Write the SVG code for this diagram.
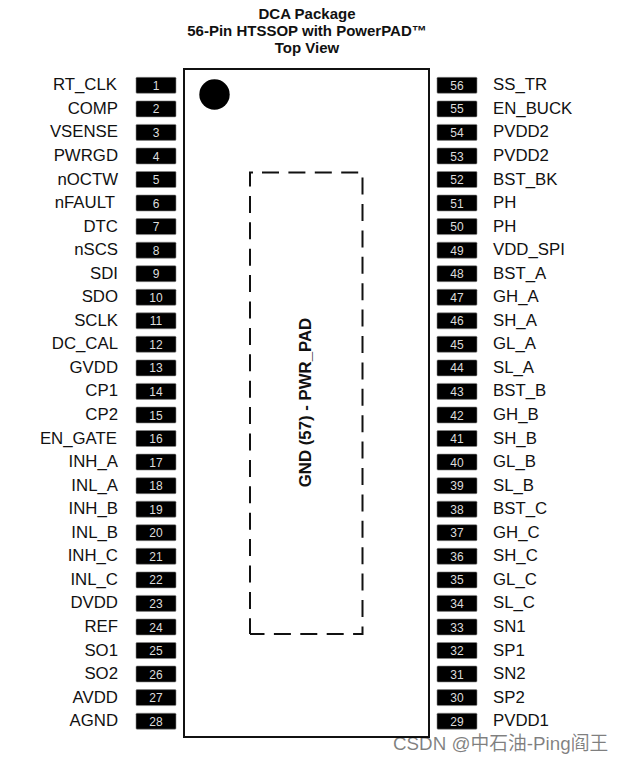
<svg xmlns="http://www.w3.org/2000/svg" width="623" height="763" viewBox="0 0 623 763">
<style>
text{font-family:"Liberation Sans",Arial,sans-serif}
.t{font-size:15px;font-weight:bold;fill:#111;text-anchor:middle}
.l{font-size:16.800px;fill:#111;text-anchor:end}
.r{font-size:16.800px;fill:#111}
.n{font-size:12px;fill:#ddd;text-anchor:middle}
.b{fill:#000;stroke:#888;stroke-width:.6}
.d{fill:none;stroke:#111;stroke-width:2;stroke-dasharray:17 9.400}
</style>
<defs>
<rect id="pl" class="b" x="136" y="-8" width="40" height="16" rx="1"/>
<rect id="pr" class="b" x="437" y="-8" width="40" height="16" rx="1"/>
</defs>
<g id="title">
<text class="t" x="307" y="19">DCA Package</text>
<text class="t" x="307" y="36">56-Pin HTSSOP with PowerPAD™</text>
<text class="t" x="307" y="52.500">Top View</text>
</g>
<g id="package">
<rect x="184" y="69" width="245" height="668" fill="#fff" stroke="#111" stroke-width="2"/>
<circle cx="214.500" cy="94.500" r="15.200" fill="#000"/>
</g>
<g id="powerpad">
<path class="d" d="M262,172.500H362.500V634H250"/>
<path class="d" d="M253,172.500H250V634"/>
<text transform="translate(311,402.500) rotate(-90)" font-size="16.800" font-weight="bold" fill="#111" text-anchor="middle">GND (57) - PWR_PAD</text>
</g>
<g id="pins-left">
<g id="pin1" transform="translate(0,85.300)"><use href="#pl"/><text class="n" x="156" y="4.500">1</text><text class="l" x="117" y="5">RT_CLK</text></g>
<g id="pin2" transform="translate(0,108.900)"><use href="#pl"/><text class="n" x="156" y="4.500">2</text><text class="l" x="118" y="5">COMP</text></g>
<g id="pin3" transform="translate(0,132.400)"><use href="#pl"/><text class="n" x="156" y="4.500">3</text><text class="l" x="118" y="5">VSENSE</text></g>
<g id="pin4" transform="translate(0,156)"><use href="#pl"/><text class="n" x="156" y="4.500">4</text><text class="l" x="118" y="5">PWRGD</text></g>
<g id="pin5" transform="translate(0,179.500)"><use href="#pl"/><text class="n" x="156" y="4.500">5</text><text class="l" x="118" y="5">nOCTW</text></g>
<g id="pin6" transform="translate(0,203)"><use href="#pl"/><text class="n" x="156" y="4.500">6</text><text class="l" x="115" y="5">nFAULT</text></g>
<g id="pin7" transform="translate(0,226.600)"><use href="#pl"/><text class="n" x="156" y="4.500">7</text><text class="l" x="118" y="5">DTC</text></g>
<g id="pin8" transform="translate(0,250.200)"><use href="#pl"/><text class="n" x="156" y="4.500">8</text><text class="l" x="118" y="5">nSCS</text></g>
<g id="pin9" transform="translate(0,273.700)"><use href="#pl"/><text class="n" x="156" y="4.500">9</text><text class="l" x="118" y="5">SDI</text></g>
<g id="pin10" transform="translate(0,297.300)"><use href="#pl"/><text class="n" x="156" y="4.500">10</text><text class="l" x="118" y="5">SDO</text></g>
<g id="pin11" transform="translate(0,320.800)"><use href="#pl"/><text class="n" x="156" y="4.500">11</text><text class="l" x="118" y="5">SCLK</text></g>
<g id="pin12" transform="translate(0,344.300)"><use href="#pl"/><text class="n" x="156" y="4.500">12</text><text class="l" x="118" y="5">DC_CAL</text></g>
<g id="pin13" transform="translate(0,367.900)"><use href="#pl"/><text class="n" x="156" y="4.500">13</text><text class="l" x="118" y="5">GVDD</text></g>
<g id="pin14" transform="translate(0,391.400)"><use href="#pl"/><text class="n" x="156" y="4.500">14</text><text class="l" x="118" y="5">CP1</text></g>
<g id="pin15" transform="translate(0,415)"><use href="#pl"/><text class="n" x="156" y="4.500">15</text><text class="l" x="118" y="5">CP2</text></g>
<g id="pin16" transform="translate(0,438.500)"><use href="#pl"/><text class="n" x="156" y="4.500">16</text><text class="l" x="117" y="5">EN_GATE</text></g>
<g id="pin17" transform="translate(0,462.100)"><use href="#pl"/><text class="n" x="156" y="4.500">17</text><text class="l" x="118" y="5">INH_A</text></g>
<g id="pin18" transform="translate(0,485.700)"><use href="#pl"/><text class="n" x="156" y="4.500">18</text><text class="l" x="118" y="5">INL_A</text></g>
<g id="pin19" transform="translate(0,509.200)"><use href="#pl"/><text class="n" x="156" y="4.500">19</text><text class="l" x="118" y="5">INH_B</text></g>
<g id="pin20" transform="translate(0,532.700)"><use href="#pl"/><text class="n" x="156" y="4.500">20</text><text class="l" x="118" y="5">INL_B</text></g>
<g id="pin21" transform="translate(0,556.300)"><use href="#pl"/><text class="n" x="156" y="4.500">21</text><text class="l" x="118" y="5">INH_C</text></g>
<g id="pin22" transform="translate(0,579.900)"><use href="#pl"/><text class="n" x="156" y="4.500">22</text><text class="l" x="118" y="5">INL_C</text></g>
<g id="pin23" transform="translate(0,603.400)"><use href="#pl"/><text class="n" x="156" y="4.500">23</text><text class="l" x="118" y="5">DVDD</text></g>
<g id="pin24" transform="translate(0,627)"><use href="#pl"/><text class="n" x="156" y="4.500">24</text><text class="l" x="118" y="5">REF</text></g>
<g id="pin25" transform="translate(0,650.500)"><use href="#pl"/><text class="n" x="156" y="4.500">25</text><text class="l" x="118" y="5">SO1</text></g>
<g id="pin26" transform="translate(0,674)"><use href="#pl"/><text class="n" x="156" y="4.500">26</text><text class="l" x="118" y="5">SO2</text></g>
<g id="pin27" transform="translate(0,697.600)"><use href="#pl"/><text class="n" x="156" y="4.500">27</text><text class="l" x="118" y="5">AVDD</text></g>
<g id="pin28" transform="translate(0,721.200)"><use href="#pl"/><text class="n" x="156" y="4.500">28</text><text class="l" x="118" y="5">AGND</text></g>
</g>
<g id="pins-right">
<g id="pin56" transform="translate(0,85.300)"><use href="#pr"/><text class="n" x="457" y="4.500">56</text><text class="r" x="493" y="5">SS_TR</text></g>
<g id="pin55" transform="translate(0,108.900)"><use href="#pr"/><text class="n" x="457" y="4.500">55</text><text class="r" x="493" y="5">EN_BUCK</text></g>
<g id="pin54" transform="translate(0,132.400)"><use href="#pr"/><text class="n" x="457" y="4.500">54</text><text class="r" x="493" y="5">PVDD2</text></g>
<g id="pin53" transform="translate(0,156)"><use href="#pr"/><text class="n" x="457" y="4.500">53</text><text class="r" x="493" y="5">PVDD2</text></g>
<g id="pin52" transform="translate(0,179.500)"><use href="#pr"/><text class="n" x="457" y="4.500">52</text><text class="r" x="493" y="5">BST_BK</text></g>
<g id="pin51" transform="translate(0,203)"><use href="#pr"/><text class="n" x="457" y="4.500">51</text><text class="r" x="493" y="5">PH</text></g>
<g id="pin50" transform="translate(0,226.600)"><use href="#pr"/><text class="n" x="457" y="4.500">50</text><text class="r" x="493" y="5">PH</text></g>
<g id="pin49" transform="translate(0,250.200)"><use href="#pr"/><text class="n" x="457" y="4.500">49</text><text class="r" x="493" y="5">VDD_SPI</text></g>
<g id="pin48" transform="translate(0,273.700)"><use href="#pr"/><text class="n" x="457" y="4.500">48</text><text class="r" x="493" y="5">BST_A</text></g>
<g id="pin47" transform="translate(0,297.300)"><use href="#pr"/><text class="n" x="457" y="4.500">47</text><text class="r" x="493" y="5">GH_A</text></g>
<g id="pin46" transform="translate(0,320.800)"><use href="#pr"/><text class="n" x="457" y="4.500">46</text><text class="r" x="493" y="5">SH_A</text></g>
<g id="pin45" transform="translate(0,344.300)"><use href="#pr"/><text class="n" x="457" y="4.500">45</text><text class="r" x="493" y="5">GL_A</text></g>
<g id="pin44" transform="translate(0,367.900)"><use href="#pr"/><text class="n" x="457" y="4.500">44</text><text class="r" x="493" y="5">SL_A</text></g>
<g id="pin43" transform="translate(0,391.400)"><use href="#pr"/><text class="n" x="457" y="4.500">43</text><text class="r" x="493" y="5">BST_B</text></g>
<g id="pin42" transform="translate(0,415)"><use href="#pr"/><text class="n" x="457" y="4.500">42</text><text class="r" x="493" y="5">GH_B</text></g>
<g id="pin41" transform="translate(0,438.500)"><use href="#pr"/><text class="n" x="457" y="4.500">41</text><text class="r" x="493" y="5">SH_B</text></g>
<g id="pin40" transform="translate(0,462.100)"><use href="#pr"/><text class="n" x="457" y="4.500">40</text><text class="r" x="493" y="5">GL_B</text></g>
<g id="pin39" transform="translate(0,485.700)"><use href="#pr"/><text class="n" x="457" y="4.500">39</text><text class="r" x="493" y="5">SL_B</text></g>
<g id="pin38" transform="translate(0,509.200)"><use href="#pr"/><text class="n" x="457" y="4.500">38</text><text class="r" x="493" y="5">BST_C</text></g>
<g id="pin37" transform="translate(0,532.700)"><use href="#pr"/><text class="n" x="457" y="4.500">37</text><text class="r" x="493" y="5">GH_C</text></g>
<g id="pin36" transform="translate(0,556.300)"><use href="#pr"/><text class="n" x="457" y="4.500">36</text><text class="r" x="493" y="5">SH_C</text></g>
<g id="pin35" transform="translate(0,579.900)"><use href="#pr"/><text class="n" x="457" y="4.500">35</text><text class="r" x="493" y="5">GL_C</text></g>
<g id="pin34" transform="translate(0,603.400)"><use href="#pr"/><text class="n" x="457" y="4.500">34</text><text class="r" x="493" y="5">SL_C</text></g>
<g id="pin33" transform="translate(0,627)"><use href="#pr"/><text class="n" x="457" y="4.500">33</text><text class="r" x="493" y="5">SN1</text></g>
<g id="pin32" transform="translate(0,650.500)"><use href="#pr"/><text class="n" x="457" y="4.500">32</text><text class="r" x="493" y="5">SP1</text></g>
<g id="pin31" transform="translate(0,674)"><use href="#pr"/><text class="n" x="457" y="4.500">31</text><text class="r" x="493" y="5">SN2</text></g>
<g id="pin30" transform="translate(0,697.600)"><use href="#pr"/><text class="n" x="457" y="4.500">30</text><text class="r" x="493" y="5">SP2</text></g>
<g id="pin29" transform="translate(0,721.200)"><use href="#pr"/><text class="n" x="457" y="4.500">29</text><text class="r" x="493" y="5">PVDD1</text></g>
</g>
<g id="connectors"/>
<text id="watermark" x="393" y="749.500" font-size="18.800" fill="#000" fill-opacity=".5" style="font-family:'Liberation Sans','Noto Sans CJK SC',sans-serif">CSDN @中石油-Ping阎王</text>
</svg>
